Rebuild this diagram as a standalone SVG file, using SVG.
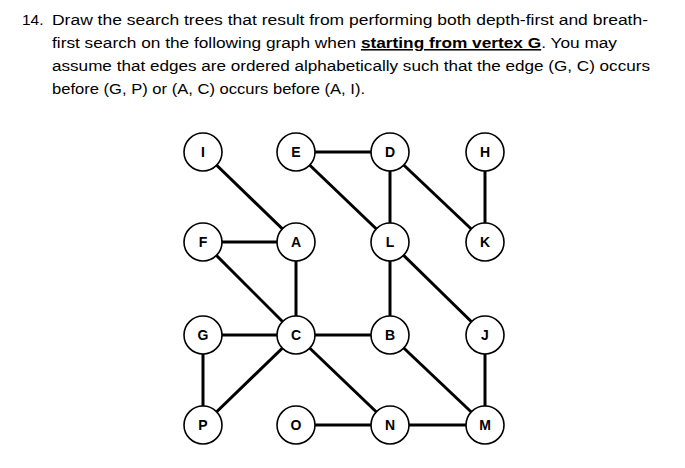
<svg xmlns="http://www.w3.org/2000/svg" width="685" height="468" viewBox="0 0 685 468">
<style>
.t{font-family:"Liberation Sans",Arial,sans-serif;font-size:15.5px;fill:#000}
.n circle{fill:#fff;stroke:#000;stroke-width:1.6}
.n text{font-family:"Liberation Sans",Arial,sans-serif;font-size:14px;font-weight:bold;text-anchor:middle;fill:#000}
#edges line{stroke:#000;stroke-width:3}
</style>
<rect width="685" height="468" fill="#fff"/>
<text class="t" x="22" y="25">14.</text>
<text class="t" x="52" y="25" textLength="596" lengthAdjust="spacingAndGlyphs">Draw the search trees that result from performing both depth-first and breath-</text>
<text class="t" x="52" y="48" textLength="565" lengthAdjust="spacingAndGlyphs">first search on the following graph when <tspan font-weight="bold" text-decoration="underline">starting from vertex G</tspan>. You may</text>
<text class="t" x="52" y="71" textLength="598" lengthAdjust="spacingAndGlyphs">assume that edges are ordered alphabetically such that the edge (G, C) occurs</text>
<text class="t" x="52" y="94" textLength="313" lengthAdjust="spacingAndGlyphs">before (G, P) or (A, C) occurs before (A, I).</text>
<g id="edges">
<line x1="203" y1="152" x2="296" y2="242"/>
<line x1="296" y1="152" x2="390" y2="152"/>
<line x1="296" y1="152" x2="390" y2="242"/>
<line x1="390" y1="152" x2="390" y2="242"/>
<line x1="390" y1="152" x2="485" y2="242"/>
<line x1="485" y1="152" x2="485" y2="242"/>
<line x1="203" y1="242" x2="296" y2="242"/>
<line x1="203" y1="242" x2="296" y2="335"/>
<line x1="296" y1="242" x2="296" y2="335"/>
<line x1="390" y1="242" x2="485" y2="335"/>
<line x1="390" y1="242" x2="390" y2="335"/>
<line x1="203" y1="335" x2="390" y2="335"/>
<line x1="203" y1="335" x2="203" y2="425"/>
<line x1="203" y1="425" x2="296" y2="335"/>
<line x1="296" y1="335" x2="390" y2="425"/>
<line x1="390" y1="335" x2="485" y2="425"/>
<line x1="485" y1="335" x2="485" y2="425"/>
<line x1="296" y1="425" x2="485" y2="425"/>
</g>
<g id="I" class="n"><circle cx="203" cy="152" r="19"/><text x="203" y="157">I</text></g>
<g id="E" class="n"><circle cx="296" cy="152" r="19"/><text x="296" y="157">E</text></g>
<g id="D" class="n"><circle cx="390" cy="152" r="19"/><text x="390" y="157">D</text></g>
<g id="H" class="n"><circle cx="485" cy="152" r="19"/><text x="485" y="157">H</text></g>
<g id="F" class="n"><circle cx="203" cy="242" r="19"/><text x="203" y="247">F</text></g>
<g id="A" class="n"><circle cx="296" cy="242" r="19"/><text x="296" y="247">A</text></g>
<g id="L" class="n"><circle cx="390" cy="242" r="19"/><text x="390" y="247">L</text></g>
<g id="K" class="n"><circle cx="485" cy="242" r="19"/><text x="485" y="247">K</text></g>
<g id="G" class="n"><circle cx="203" cy="335" r="19"/><text x="203" y="340">G</text></g>
<g id="C" class="n"><circle cx="296" cy="335" r="19"/><text x="296" y="340">C</text></g>
<g id="B" class="n"><circle cx="390" cy="335" r="19"/><text x="390" y="340">B</text></g>
<g id="J" class="n"><circle cx="485" cy="335" r="19"/><text x="485" y="340">J</text></g>
<g id="P" class="n"><circle cx="203" cy="425" r="19"/><text x="203" y="430">P</text></g>
<g id="O" class="n"><circle cx="296" cy="425" r="19"/><text x="296" y="430">O</text></g>
<g id="N" class="n"><circle cx="390" cy="425" r="19"/><text x="390" y="430">N</text></g>
<g id="M" class="n"><circle cx="485" cy="425" r="19"/><text x="485" y="430">M</text></g>
</svg>
